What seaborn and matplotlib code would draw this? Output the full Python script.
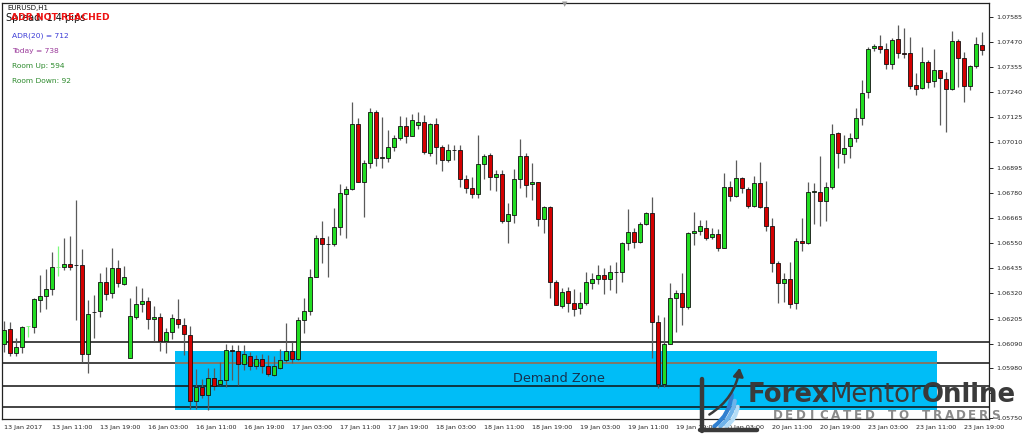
import matplotlib
matplotlib.use("Agg")
import matplotlib.pyplot as plt
from matplotlib.patches import Rectangle, FancyArrowPatch
from matplotlib.lines import Line2D
import numpy as np
import seaborn as sns

# ---------------------------------------------------------------
# EURUSD H1 bars, 13 Jan 2017 03:00 -> 23 Jan 2017 22:00
# ---------------------------------------------------------------
opens = [
    1.06089, 1.06158, 1.06049, 1.06074, 1.06169, 1.06168, 1.06290, 1.06308,
    1.06339, 1.06439, 1.06439, 1.06456, 1.06450, 1.06450, 1.06043, 1.06233,
    1.06240, 1.06374, 1.06321, 1.06435, 1.06362, 1.06026, 1.06214, 1.06270,
    1.06285, 1.06202, 1.06214, 1.06103, 1.06142, 1.06203, 1.06176, 1.06130,
    1.05828, 1.05894, 1.05856, 1.05935, 1.05906, 1.05924, 1.06060, 1.06057,
    1.05996, 1.06036, 1.05990, 1.06019, 1.05990, 1.05947, 1.05978, 1.06016,
    1.06057, 1.06019, 1.06199, 1.06241, 1.06396, 1.06572, 1.06545, 1.06545,
    1.06625, 1.06773, 1.06796, 1.07093, 1.06831, 1.06915, 1.07151, 1.06940,
    1.06940, 1.06988, 1.07029, 1.07085, 1.07041, 1.07090, 1.07105, 1.06963,
    1.07093, 1.06988, 1.06930, 1.06976, 1.06976, 1.06843, 1.06800, 1.06776,
    1.06910, 1.06953, 1.06851, 1.06866, 1.06652, 1.06680, 1.06842, 1.06948,
    1.06820, 1.06828, 1.06660, 1.06714, 1.06374, 1.06264, 1.06333, 1.06275,
    1.06252, 1.06275, 1.06369, 1.06385, 1.06404, 1.06386, 1.06417, 1.06417,
    1.06549, 1.06602, 1.06554, 1.06636, 1.06689, 1.06188, 1.05905, 1.06090,
    1.06298, 1.06320, 1.06259, 1.06594, 1.06603, 1.06620, 1.06577, 1.06592,
    1.06529, 1.06808, 1.06767, 1.06846, 1.06797, 1.06720, 1.06823, 1.06714,
    1.06628, 1.06458, 1.06366, 1.06385, 1.06275, 1.06561, 1.06549, 1.06785,
    1.06785, 1.06744, 1.06805, 1.07052, 1.06956, 1.06994, 1.07029, 1.07120,
    1.07239, 1.07440, 1.07451, 1.07436, 1.07367, 1.07481, 1.07417, 1.07417,
    1.07273, 1.07257, 1.07376, 1.07291, 1.07341, 1.07300, 1.07254, 1.07474,
    1.07395, 1.07269, 1.07359, 1.07455,
]
highs = [
    1.06194, 1.06191, 1.06115, 1.06173, 1.06173, 1.06298, 1.06404, 1.06430,
    1.06508, 1.06537, 1.06572, 1.06582, 1.06747, 1.06522, 1.06290, 1.06313,
    1.06415, 1.06439, 1.06526, 1.06473, 1.06445, 1.06298, 1.06354, 1.06343,
    1.06305, 1.06263, 1.06232, 1.06161, 1.06225, 1.06295, 1.06206, 1.06171,
    1.05975, 1.05929, 1.05978, 1.05981, 1.06008, 1.06088, 1.06084, 1.06084,
    1.06084, 1.06054, 1.06039, 1.06043, 1.06039, 1.06034, 1.06065, 1.06184,
    1.06099, 1.06214, 1.06298, 1.06432, 1.06587, 1.06651, 1.06582, 1.06712,
    1.06819, 1.06811, 1.07196, 1.07120, 1.06930, 1.07166, 1.07158, 1.07128,
    1.07067, 1.07044, 1.07131, 1.07128, 1.07139, 1.07148, 1.07135, 1.07098,
    1.07120, 1.06998, 1.07002, 1.06998, 1.06998, 1.06861, 1.06853, 1.07044,
    1.06957, 1.06963, 1.06884, 1.06884, 1.06732, 1.06887, 1.07026, 1.06960,
    1.06915, 1.06831, 1.06720, 1.06720, 1.06381, 1.06343, 1.06351, 1.06339,
    1.06328, 1.06419, 1.06412, 1.06450, 1.06435, 1.06450, 1.06465, 1.06556,
    1.06705, 1.06618, 1.06648, 1.06694, 1.06762, 1.06221, 1.06214, 1.06366,
    1.06336, 1.06412, 1.06602, 1.06694, 1.06656, 1.06656, 1.06618, 1.06613,
    1.06872, 1.06834, 1.06930, 1.06853, 1.06808, 1.06857, 1.06919, 1.06834,
    1.06666, 1.06468, 1.06412, 1.06462, 1.06575, 1.06666, 1.06831, 1.06826,
    1.06949, 1.06831, 1.07093, 1.07059, 1.07044, 1.07052, 1.07166, 1.07295,
    1.07448, 1.07459, 1.07501, 1.07463, 1.07486, 1.07547, 1.07534, 1.07491,
    1.07326, 1.07448, 1.07387, 1.07437, 1.07341, 1.07333, 1.07521, 1.07483,
    1.07425, 1.07364, 1.07493, 1.07513,
]
lows = [
    1.06052, 1.06034, 1.06034, 1.06049, 1.06122, 1.06138, 1.06237, 1.06248,
    1.06313, 1.06401, 1.06427, 1.06427, 1.06199, 1.06008, 1.05958, 1.06115,
    1.06214, 1.06290, 1.06298, 1.06348, 1.06359, 1.06024, 1.06202, 1.06237,
    1.06156, 1.06103, 1.06058, 1.06046, 1.06110, 1.06163, 1.06039, 1.05790,
    1.05790, 1.05843, 1.05787, 1.05879, 1.05902, 1.05894, 1.05924, 1.05902,
    1.05970, 1.05970, 1.05973, 1.05955, 1.05944, 1.05944, 1.05973, 1.06008,
    1.06001, 1.06016, 1.06138, 1.06221, 1.06394, 1.06460, 1.06396, 1.06537,
    1.06587, 1.06572, 1.06793, 1.06829, 1.06671, 1.06892, 1.06902, 1.06892,
    1.06922, 1.06972, 1.07021, 1.07006, 1.07040, 1.07070, 1.06957, 1.06948,
    1.06912, 1.06880, 1.06922, 1.06930, 1.06808, 1.06778, 1.06755, 1.06755,
    1.06843, 1.06793, 1.06790, 1.06643, 1.06549, 1.06643, 1.06800, 1.06759,
    1.06747, 1.06628, 1.06598, 1.06298, 1.06265, 1.06252, 1.06237, 1.06217,
    1.06226, 1.06267, 1.06339, 1.06363, 1.06316, 1.06336, 1.06321, 1.06371,
    1.06519, 1.06526, 1.06552, 1.06633, 1.06024, 1.05887, 1.05894, 1.06088,
    1.06142, 1.06176, 1.06248, 1.06541, 1.06587, 1.06564, 1.06569, 1.06515,
    1.06526, 1.06744, 1.06762, 1.06778, 1.06709, 1.06716, 1.06709, 1.06605,
    1.06417, 1.06275, 1.06282, 1.06255, 1.06248, 1.06514, 1.06545, 1.06636,
    1.06630, 1.06652, 1.06797, 1.06892, 1.06915, 1.06938, 1.07013, 1.07090,
    1.07212, 1.07428, 1.07417, 1.07344, 1.07346, 1.07397, 1.07395, 1.07254,
    1.07227, 1.07254, 1.07257, 1.07265, 1.07090, 1.07059, 1.07250, 1.07265,
    1.07194, 1.07250, 1.07352, 1.07410,
]
closes = [
    1.06153, 1.06046, 1.06077, 1.06168, 1.06170, 1.06293, 1.06308, 1.06339,
    1.06439, 1.06440, 1.06456, 1.06442, 1.06449, 1.06043, 1.06226, 1.06237,
    1.06371, 1.06316, 1.06435, 1.06366, 1.06396, 1.06217, 1.06270, 1.06285,
    1.06202, 1.06214, 1.06103, 1.06145, 1.06209, 1.06179, 1.06133, 1.05828,
    1.05894, 1.05856, 1.05935, 1.05898, 1.05924, 1.06060, 1.06058, 1.05996,
    1.06042, 1.05990, 1.06019, 1.05990, 1.05950, 1.05990, 1.06016, 1.06057,
    1.06019, 1.06199, 1.06241, 1.06396, 1.06572, 1.06545, 1.06544, 1.06625,
    1.06778, 1.06796, 1.07093, 1.06831, 1.06915, 1.07151, 1.06940, 1.06942,
    1.06988, 1.07032, 1.07085, 1.07041, 1.07113, 1.07105, 1.06965, 1.07093,
    1.06988, 1.06930, 1.06976, 1.06975, 1.06843, 1.06800, 1.06774, 1.06910,
    1.06949, 1.06853, 1.06866, 1.06652, 1.06682, 1.06842, 1.06948, 1.06816,
    1.06828, 1.06660, 1.06714, 1.06374, 1.06267, 1.06328, 1.06275, 1.06249,
    1.06275, 1.06371, 1.06385, 1.06404, 1.06386, 1.06417, 1.06418, 1.06549,
    1.06602, 1.06554, 1.06636, 1.06689, 1.06188, 1.05905, 1.06088, 1.06298,
    1.06321, 1.06259, 1.06595, 1.06605, 1.06630, 1.06572, 1.06592, 1.06529,
    1.06808, 1.06767, 1.06846, 1.06800, 1.06720, 1.06823, 1.06714, 1.06630,
    1.06458, 1.06369, 1.06385, 1.06270, 1.06561, 1.06549, 1.06785, 1.06786,
    1.06744, 1.06808, 1.07049, 1.06960, 1.06986, 1.07029, 1.07120, 1.07235,
    1.07437, 1.07451, 1.07436, 1.07367, 1.07478, 1.07417, 1.07416, 1.07269,
    1.07254, 1.07376, 1.07288, 1.07341, 1.07303, 1.07254, 1.07475, 1.07395,
    1.07269, 1.07359, 1.07459, 1.07432,
]
light_bars = [4, 9]  # bars drawn in pale green on the original terminal

time_labels = [
    "13 Jan 2017", "13 Jan 11:00", "13 Jan 19:00", "16 Jan 03:00", "16 Jan 11:00",
    "16 Jan 19:00", "17 Jan 03:00", "17 Jan 11:00", "17 Jan 19:00", "18 Jan 03:00",
    "18 Jan 11:00", "18 Jan 19:00", "19 Jan 03:00", "19 Jan 11:00", "19 Jan 19:00",
    "20 Jan 03:00", "20 Jan 11:00", "20 Jan 19:00", "23 Jan 03:00", "23 Jan 11:00",
    "23 Jan 19:00",
]
label_step = 8

price_ticks = [1.07585, 1.07470, 1.07355, 1.07240, 1.07125, 1.07010, 1.06895,
               1.06780, 1.06665, 1.06550, 1.06435, 1.06320, 1.06205, 1.06090,
               1.05980, 1.05865, 1.05750]
hidden_price_labels = [1.05865]  # covered by the watermark logo

levels = [1.06100, 1.06003, 1.05899, 1.05799]
zone_first_bar, zone_last_bar = 29, 156
zone_low, zone_high = 1.05788, 1.06055

info_lines = [("ADR(20) = 712", "#3b3bd6"), ("Today = 738", "#9b3b9b"),
              ("Room Up: 594", "#2e8b2e"), ("Room Down: 92", "#2e8b2e")]

# ---------------------------------------------------------------
sns.set_theme(style="white")
plt.rcParams["font.family"] = ["DejaVu Sans"]

W, H = 1024, 437
fig = plt.figure(figsize=(W / 100, H / 100), dpi=100)
fig.patch.set_facecolor("white")
renderer = fig.canvas.get_renderer()

def fx(x):
    return x / W

def fy(y):
    return 1 - y / H

ax_top, ax_bot, ax_left, ax_right = 3, 419, 2, 989
ax = fig.add_axes([fx(ax_left), fy(ax_bot), (ax_right - ax_left) / W, (ax_bot - ax_top) / H])
ax.set_facecolor("white")

o = np.array(opens)
h = np.array(highs)
l = np.array(lows)
c = np.array(closes)
x = np.arange(len(o))

up = c >= o
body_col = np.where(up, "#22dd22", "#d40000").astype(object)
wick_col = np.array(["#5a5a5a"] * len(o), dtype=object)
edge_col = np.array(["#111111"] * len(o), dtype=object)
for i in light_bars:
    body_col[i] = "#7cfc7c"
    wick_col[i] = "#7cfc7c"
    edge_col[i] = "#7cfc7c"

# demand zone behind everything
ax.add_patch(Rectangle((zone_first_bar - 0.5, zone_low), zone_last_bar - zone_first_bar,
                       zone_high - zone_low, facecolor="#00bdf7", edgecolor="none", zorder=1))

# horizontal support levels
for lv in levels:
    ax.axhline(lv, color="#111111", lw=1.1, zorder=1.5)
# middle level looks greyish inside the zone
ax.hlines(levels[1], zone_first_bar - 0.5, zone_last_bar - 0.5, color="#8a8070", lw=1.3, zorder=1.6)

ax.vlines(x, l, h, colors=list(wick_col), lw=0.9, zorder=2)
bottoms = np.minimum(o, c)
heights = np.maximum(np.abs(c - o), 0.000025)
ax.bar(x, heights, bottom=bottoms, width=0.72, color=list(body_col),
       edgecolor=list(edge_col), linewidth=0.6, zorder=3)

ax.text(zone_first_bar + 0.5 * (zone_last_bar - zone_first_bar), 1.05930, "Demand Zone",
        ha="center", va="center", fontsize=9.3, color="#16324f", zorder=4)

ax.set_xlim(-0.33, (ax_right - 4) / 6)
ax.set_ylim(1.05746, 1.07647)

ax.yaxis.tick_right()
ax.set_yticks(price_ticks)
ax.set_yticklabels(["" if p in hidden_price_labels else f"{p:.5f}" for p in price_ticks])
tick_pos = [i * label_step for i in range(len(time_labels))]
ax.set_xticks(tick_pos)
ax.set_xticklabels(time_labels, ha="left")
ax.tick_params(axis="both", direction="out", length=3, width=0.7, colors="#222222",
               labelsize=4.6, pad=1.5)
ax.tick_params(axis="y", pad=2)
for sp in ax.spines.values():
    sp.set_color("#222222")
    sp.set_linewidth(0.9)
ax.grid(False)

# chart-shift marker
fig.text(fx(565), fy(4), "\u25bc", ha="center", va="center", fontsize=5, color="#9a9a9a")

# header texts (the terminal draws two labels on top of each other here)
fig.text(fx(7), fy(8), "EURUSD,H1", ha="left", va="center", fontsize=5, color="#111111")
fig.text(fx(6), fy(18), "Spread: 1.4 pips", ha="left", va="center", fontsize=7, color="#111111")
fig.text(fx(11), fy(18), "ADR NOT REACHED", ha="left", va="center", fontsize=6.6,
         color="#ee1111", fontweight="bold")
for j, (txt, col) in enumerate(info_lines):
    fig.text(fx(12), fy(36 + 15 * j), txt, ha="left", va="center", fontsize=5.4, color=col)


def fitted_words(words, x0, x1, y, size, **kw):
    """place word pieces side by side, scaled so they span x0..x1 pixels"""
    probe = [fig.text(0, 0, w, fontsize=size, fontweight=wt, **kw) for w, wt in words]
    widths = [t.get_window_extent(renderer).width for t in probe]
    for t in probe:
        t.remove()
    scale = (x1 - x0) / sum(widths)
    pos = x0
    for (w, wt), wd in zip(words, widths):
        fig.text(fx(pos), fy(y), w, fontsize=size * scale, fontweight=wt,
                 ha="left", va="baseline", **kw)
        pos += wd * scale


# logo
dark = "#3a3a3a"
fitted_words([("Forex", "bold"), ("Mentor", "normal"), ("Online", "bold")],
             748, 1017, 402, 19, color=dark)
tagline = "DEDICATED TO TRADERS"
step = (995 - 778) / (len(tagline) - 1)
for i, ch in enumerate(tagline):
    if ch != " ":
        fig.text(fx(778 + i * step), fy(419), ch, ha="center", va="baseline",
                 fontsize=8.6, fontweight="semibold", color="#8a8a8a")
fig.add_artist(Line2D([fx(702), fx(702)], [fy(379), fy(431)], color=dark, lw=3.2))
fig.add_artist(Line2D([fx(700), fx(757)], [fy(429.5), fy(429.5)], color=dark, lw=3.2))
for dx, col in [(0, "#2f7fd0"), (6, "#6fb3ea"), (12, "#b5dcf6")]:
    fig.add_artist(FancyArrowPatch((fx(712 + dx), fy(428)), (fx(732 + dx * 0.5), fy(392 + dx)),
                                   transform=fig.transFigure, arrowstyle="-",
                                   connectionstyle="arc3,rad=0.25", color=col, lw=3))
fig.add_artist(FancyArrowPatch((fx(707), fy(416)), (fx(740), fy(365)),
                               transform=fig.transFigure, arrowstyle="-|>,head_length=5,head_width=3",
                               connectionstyle="arc3,rad=0.25", color=dark, lw=1.8))

fig.savefig("out.png", dpi=100)
